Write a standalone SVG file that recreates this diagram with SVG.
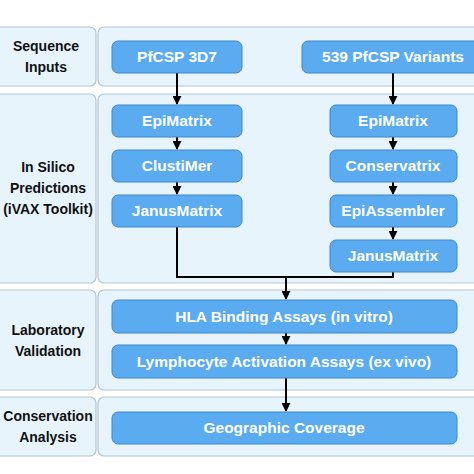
<svg xmlns="http://www.w3.org/2000/svg" width="474" height="474" viewBox="0 0 474 474">
<defs>
<style>
.cell{fill:#e8f4fc;stroke:#b3c6d3;stroke-width:1.2}
.node rect{fill:#5aabf0;stroke:#3f88c9;stroke-width:1}
.node text{fill:#ffffff;font-family:"Liberation Sans",Arial,sans-serif;font-weight:bold;font-size:15.5px;text-anchor:middle}
.lbl{fill:#111111;font-family:"Liberation Sans",Arial,sans-serif;font-weight:bold;font-size:14px;text-anchor:middle}
.conn{stroke:#000;stroke-width:2;fill:none}
</style>
<marker id="arr" viewBox="0 0 10 10" refX="9" refY="5" markerWidth="4.5" markerHeight="4.5" orient="auto">
<path d="M0,0 L10,5 L0,10 z" fill="#000"/>
</marker>
</defs>
<rect width="474" height="474" fill="#ffffff"/>
<g id="lanes">
<rect class="cell" x="-10" y="27" width="106" height="59" rx="6"/>
<rect class="cell" x="98" y="27" width="390" height="59" rx="6"/>
<rect class="cell" x="-10" y="94" width="106" height="189" rx="6"/>
<rect class="cell" x="98" y="94" width="390" height="189" rx="6"/>
<rect class="cell" x="-10" y="290" width="106" height="100" rx="6"/>
<rect class="cell" x="98" y="290" width="390" height="100" rx="6"/>
<rect class="cell" x="-10" y="397" width="106" height="59" rx="6"/>
<rect class="cell" x="98" y="397" width="390" height="59" rx="6"/>
<text class="lbl" x="46" y="51">Sequence</text>
<text class="lbl" x="46" y="72">Inputs</text>
<text class="lbl" x="48" y="172">In Silico</text>
<text class="lbl" x="48" y="193">Predictions</text>
<text class="lbl" x="48" y="214">(iVAX Toolkit)</text>
<text class="lbl" x="48" y="335">Laboratory</text>
<text class="lbl" x="48" y="356">Validation</text>
<text class="lbl" x="48" y="421">Conservation</text>
<text class="lbl" x="48" y="442">Analysis</text>
</g>
<g id="connectors">
<line class="conn" x1="177" y1="73" x2="177" y2="104" marker-end="url(#arr)"/>
<line class="conn" x1="393" y1="73" x2="393" y2="104" marker-end="url(#arr)"/>
<line class="conn" x1="177" y1="137" x2="177" y2="149" marker-end="url(#arr)"/>
<line class="conn" x1="177" y1="182" x2="177" y2="194" marker-end="url(#arr)"/>
<line class="conn" x1="393" y1="137" x2="393" y2="149" marker-end="url(#arr)"/>
<line class="conn" x1="393" y1="182" x2="393" y2="194" marker-end="url(#arr)"/>
<line class="conn" x1="393" y1="227" x2="393" y2="239" marker-end="url(#arr)"/>
<polyline class="conn" points="177,227 177,277 393,277 393,272"/>
<line class="conn" x1="286" y1="277" x2="286" y2="299" marker-end="url(#arr)"/>
<line class="conn" x1="286" y1="333" x2="286" y2="344" marker-end="url(#arr)"/>
<line class="conn" x1="286" y1="378" x2="286" y2="411" marker-end="url(#arr)"/>
</g>
<g id="pfcsp3d7" class="node"><rect x="112" y="41" width="130" height="32" rx="6"/><text x="177" y="62">PfCSP 3D7</text></g>
<g id="variants" class="node"><rect x="302" y="41" width="182" height="32" rx="6"/><text x="393" y="62">539 PfCSP Variants</text></g>
<g id="epimatrix1" class="node"><rect x="112" y="105" width="130" height="32" rx="6"/><text x="177" y="126">EpiMatrix</text></g>
<g id="clustimer" class="node"><rect x="112" y="150" width="130" height="32" rx="6"/><text x="177" y="171">ClustiMer</text></g>
<g id="janusmatrix1" class="node"><rect x="112" y="195" width="130" height="32" rx="6"/><text x="177" y="216">JanusMatrix</text></g>
<g id="epimatrix2" class="node"><rect x="330" y="105" width="127" height="32" rx="6"/><text x="393" y="126">EpiMatrix</text></g>
<g id="conservatrix" class="node"><rect x="330" y="150" width="127" height="32" rx="6"/><text x="393" y="171">Conservatrix</text></g>
<g id="epiassembler" class="node"><rect x="330" y="195" width="127" height="32" rx="6"/><text x="393" y="216">EpiAssembler</text></g>
<g id="janusmatrix2" class="node"><rect x="330" y="240" width="127" height="32" rx="6"/><text x="393" y="261">JanusMatrix</text></g>
<g id="hla" class="node"><rect x="112" y="300" width="345" height="33" rx="6"/><text x="284" y="322">HLA Binding Assays (in vitro)</text></g>
<g id="lymphocyte" class="node"><rect x="112" y="345" width="345" height="33" rx="6"/><text x="284" y="367">Lymphocyte Activation Assays (ex vivo)</text></g>
<g id="geographic" class="node"><rect x="112" y="412" width="345" height="32" rx="6"/><text x="284" y="433">Geographic Coverage</text></g>
</svg>
